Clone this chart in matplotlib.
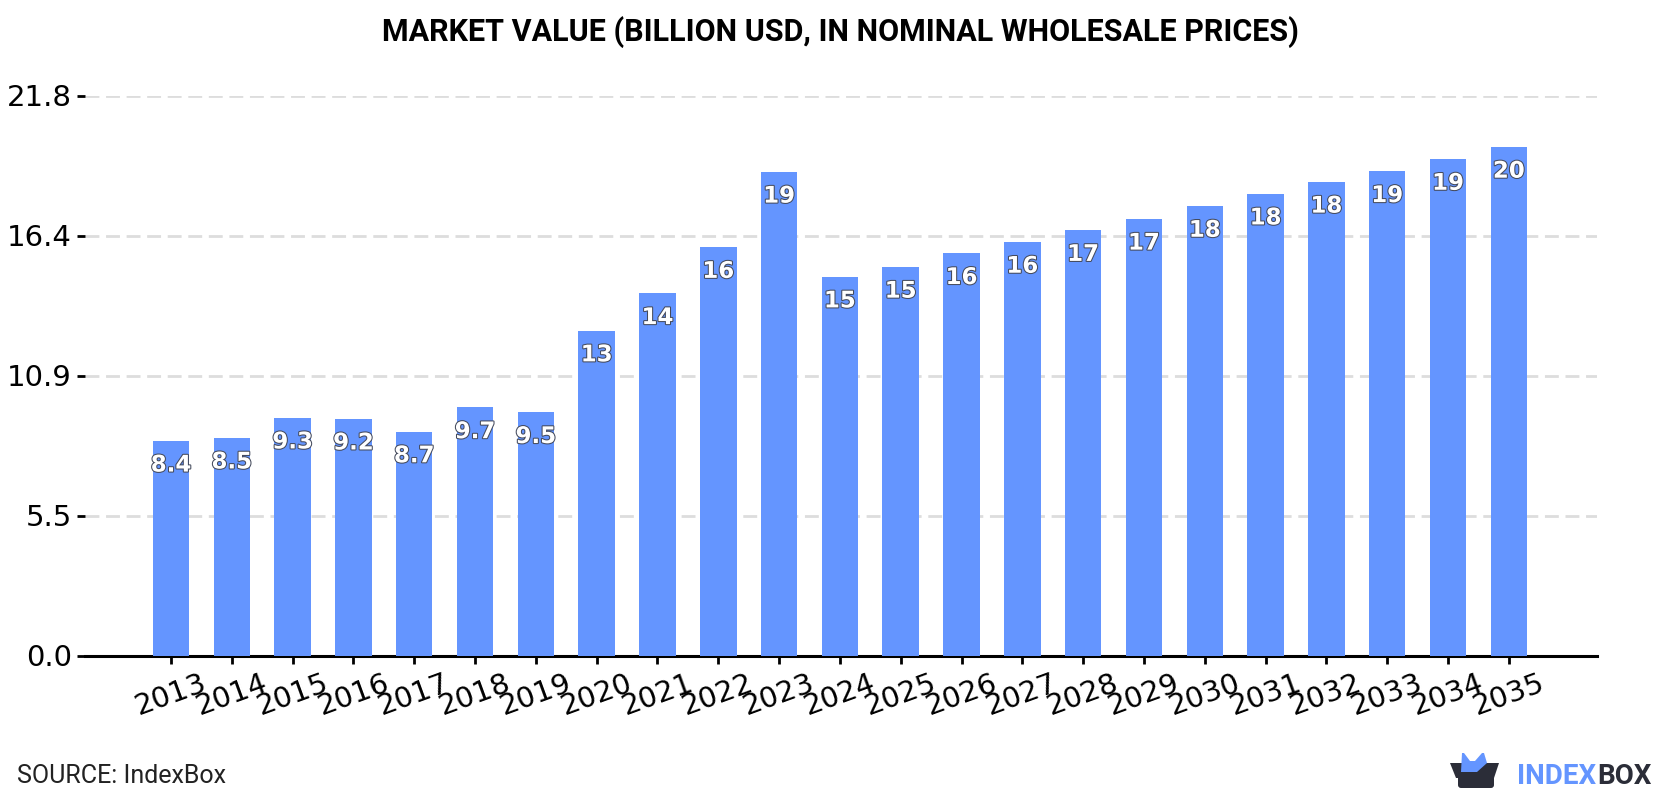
"""Market value bar chart with forecast years."""

import matplotlib

matplotlib.use("Agg")
import matplotlib.patheffects as pe
import matplotlib.pyplot as plt
from matplotlib.patches import Polygon, FancyBboxPatch

years = [str(y) for y in range(2013, 2036)]
values = [
    8.36, 8.48, 9.26, 9.22, 8.72, 9.66, 9.47, 12.65, 14.1, 15.9, 18.83, 14.75,
    15.13, 15.66, 16.1, 16.56, 17.0, 17.5, 17.98, 18.44, 18.85, 19.33, 19.8,
]
y_ticks = [0.0, 5.45, 10.9, 16.35, 21.8]
y_tick_labels = ["0.0", "5.5", "10.9", "16.4", "21.8"]

BAR_COLOR = "#6495ff"
DARK = "#2b2d38"
W, H = 1680, 800


def fx(px):
    return px / W


def fy(py):
    return 1 - py / H


fig = plt.figure(figsize=(16.8, 8), dpi=100)
ax = fig.add_axes([fx(85), fy(655.5), (1597 - 85) / W, (655.5 - 95.5) / H])

xs = list(range(len(years)))
ax.bar(xs, values, width=0.6, color=BAR_COLOR, zorder=3)

for x, v in zip(xs, values):
    ax.annotate(
        f"{v:.2g}",
        xy=(x, v),
        xytext=(0, -17.5),
        textcoords="offset points",
        ha="center",
        va="center",
        fontsize=16.5,
        fontweight="bold",
        color="white",
        zorder=4,
        path_effects=[pe.withStroke(linewidth=1.5, foreground="#444a5c")],
    )

ax.set_xlim(-1.414, 23.45)
ax.set_ylim(0, 21.8)
ax.set_xticks(xs)
ax.set_xticklabels(years, rotation=20, fontsize=21, ha="center")
ax.set_yticks(y_ticks)
ax.set_yticklabels(y_tick_labels, fontsize=21)
ax.tick_params(axis="x", length=6, width=2, pad=4)
ax.tick_params(axis="y", length=5.5, width=2, pad=4)

ax.grid(axis="y", color="#dddddd", linewidth=2, linestyle=(0, (5, 2.4)), zorder=0)
ax.set_axisbelow(True)
for side in ("top", "right", "left"):
    ax.spines[side].set_visible(False)
ax.spines["bottom"].set_linewidth(2.2)

fig.text(
    0.5, fy(32), "MARKET VALUE (BILLION USD, IN NOMINAL WHOLESALE PRICES)",
    ha="center", va="center", fontsize=22, fontweight="bold", family="Roboto",
)
fig.text(fx(17), fy(776), "SOURCE: IndexBox", ha="left", va="center",
         fontsize=18, family="Roboto", color="#222222")

# logo: open box with a blue crown sticking out
logo = fig.add_axes([0, 0, 1, 1], facecolor="none")
logo.set_xlim(0, W)
logo.set_ylim(H, 0)
logo.axis("off")
logo.add_patch(FancyBboxPatch(
    (1458, 768), 36, 20, boxstyle="round,pad=0,rounding_size=3", fc=DARK, ec="none",
))
box_top = [(1450, 763), (1499, 763), (1494, 778), (1456, 778)]
logo.add_patch(Polygon(box_top, closed=True, fc=DARK, ec="none"))
crown = [(1461, 772), (1477, 772), (1487, 763), (1484, 753), (1482, 753), (1475, 761),
         (1470, 761), (1464, 753), (1462, 753)]
logo.add_patch(Polygon(crown, closed=True, fc=BAR_COLOR, ec="none"))

index_txt = logo.text(1517, 777, "INDEX", ha="left", va="center", fontsize=20, fontweight="bold",
                      family="Roboto", color=BAR_COLOR)
fig.canvas.draw()
index_end = index_txt.get_window_extent().x1
logo.text(index_end + 1, 777, "BOX", ha="left", va="center", fontsize=20, fontweight="bold",
          family="Roboto", color=DARK)

fig.savefig("out.png", dpi=100)
plt.close(fig)
